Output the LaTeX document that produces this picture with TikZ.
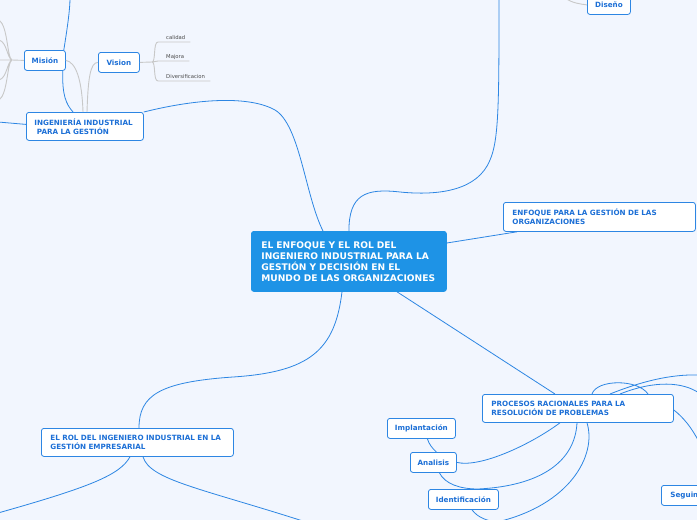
\documentclass[tikz,border=0pt]{standalone}
\usepackage{fontspec}
\setmainfont{DejaVu Sans}
\usepackage{tikz}
\usetikzlibrary{calc}
\definecolor{mapbg}{HTML}{F2F6FE}
\definecolor{mapline}{HTML}{2D86E3}
\definecolor{maptext}{HTML}{1C6FD6}
\definecolor{mapfill}{HTML}{1E93E6}
\definecolor{maptwig}{HTML}{C8C8C8}
\definecolor{mapdark}{HTML}{4A4A4A}

\begin{document}
\begin{tikzpicture}[x=1pt,y=-1pt,
	topic/.style={draw=mapline,fill=white,rounded corners=2.5pt,line width=0.8pt,text=maptext,anchor=north west,inner xsep=9pt,inner ysep=0pt,align=left,font=\bfseries\fontsize{7.2}{9}\selectfont},
	sub/.style={topic,align=center,inner xsep=0pt},
	core/.style={topic,fill=mapfill,draw=mapfill,text=white,inner xsep=10pt,font=\bfseries\fontsize{9.1}{11}\selectfont},
	leaf/.style={anchor=south west,inner xsep=0pt,inner ysep=1pt,text height=4pt,text depth=1.5pt,align=left,text=mapdark,font=\fontsize{5.3}{6}\selectfont},
	link/.style={draw=mapline,line width=0.8pt},
	twig/.style={draw=maptwig,line width=0.9pt}]
		\fill[mapbg] (0,0) rectangle (697,520);
		\useasboundingbox (0,0) rectangle (697,520);
		\clip (0,0) rectangle (697,520);

		\path (251,231) node[core,text width=175pt,minimum height=60pt] (main) {EL ENFOQUE Y EL ROL DEL\\INGENIERO INDUSTRIAL PARA LA\\GESTIÓN Y DECISIÓN EN EL\\MUNDO DE LAS ORGANIZACIONES}
		(503,202) node[topic,text width=174pt,minimum height=29pt] (enf) {ENFOQUE PARA LA GESTIÓN DE LAS\\ORGANIZACIONES}
		(482,394) node[topic,text width=173pt,minimum height=28pt] (proc) {PROCESOS RACIONALES PARA LA\\RESOLUCIÓN DE PROBLEMAS}
		(41,428) node[topic,text width=174pt,minimum height=28pt] (rol) {EL ROL DEL INGENIERO INDUSTRIAL EN LA\\GESTIÓN EMPRESARIAL}
		(26,112) node[topic,inner xsep=8pt,text width=101pt,minimum height=28pt] (ing) {INGENIERÍA INDUSTRIAL\\\hspace{2.5pt}PARA LA GESTIÓN}
		(24,50) node[sub,minimum width=41pt,minimum height=20pt] (mis) {Misión}
		(98,52) node[sub,minimum width=41pt,minimum height=20pt] (vis) {Vision}
		(587,-5) node[sub,minimum width=43pt,minimum height=19pt] (dis) {Diseño}
		(387,418) node[sub,minimum width=68pt,minimum height=20pt] (imp) {Implantación}
		(410,452) node[sub,minimum width=46pt,minimum height=20pt] (ana) {Analisis}
		(428,489) node[sub,minimum width=70pt,minimum height=20pt] (idf) {Identificación}
		(661,485) node[topic,text width=60pt,minimum height=20pt] (seg) {Seguim}
		(166,42) node[leaf,text width=24pt] (cal) {calidad}
		(166,61) node[leaf,text width=23pt] (maj) {Majora}
		(166,81) node[leaf,text width=44pt] (div) {Diversificacion};

		\path (499,-2) coordinate (up)
		(-2,513) coordinate (sw)
		(306,522) coordinate (s1)
		(-2,122) coordinate (w1)
		(70,-2) coordinate (n1)
		(497,522) coordinate (pdown)
		(699,375) coordinate (r1)
		(699,393) coordinate (r2)
		(699,442) coordinate (r3)
		(152,62) coordinate (vfork)
		(12,60) coordinate (mfork)
		(565,-2) coordinate (dfork);

		\draw[link] ($(main.north west)+(72,0)$) .. controls (305,195) and (300,125) .. (275,110) .. controls (250,96) and (200,98) .. (ing.north east)
		(main.north) .. controls (349,195) and (365,188) .. (400,192) .. controls (440,196) and (478,190) .. (490,160) .. controls (499,140) and (499,100) .. (up)
		($(main.north east)+(0,12)$) -- ($(enf.south west)+(14,0)$)
		($(main.south west)+(146,0)$) -- ($(proc.north west)+(73,0)$)
		($(main.south west)+(91,0)$) .. controls (335,350) and (310,372) .. (233,377) .. controls (160,382) and (139,395) .. ($(rol.north west)+(98,0)$)
		($(rol.south west)+(89,0)$) .. controls (120,475) and (90,487) .. (sw)
		($(rol.south west)+(102,0)$) .. controls (150,480) and (200,488) .. (s1)
		($(ing.west)+(0,-2)$) -- (w1)
		($(mis.north east)+(-2,0)$) .. controls (67,30) and (70,10) .. (n1)
		($(mis.south east)+(-3,0)$) .. controls (62,95) and (66,104) .. ($(ing.north west)+(47,0)$);

		\draw[link] ($(proc.south west)+(78,0)$) .. controls (530,445) and (480,468) .. (ana.east)
		($(proc.south west)+(95,0)$) .. controls (575,462) and (540,486) .. ($(idf.north west)+(50,0)$)
		($(ana.south)+(6,0)$) .. controls (445,484) and (460,489) .. ($(idf.north west)+(50,0)$)
		($(proc.south west)+(105,0)$) .. controls (597,455) and (570,505) .. (pdown)
		($(idf.south west)+(44,0)$) .. controls (478,518) and (488,521) .. (pdown)
		($(imp.south)+(6,0)$) .. controls (429,444) and (432,448) .. ($(ana.north)+(3,0)$)
		($(proc.north west)+(110,0)$) .. controls (597,379) and (638,379) .. ($(proc.north west)+(166,0)$)
		($(proc.north west)+(128,0)$) .. controls (640,382) and (670,374) .. (r1)
		($(proc.north west)+(138,0)$) .. controls (655,380) and (683,382) .. (r2)
		($(proc.north east)+(0,16)$) .. controls (683,417) and (692,428) .. (r3);

		\draw[twig] ($(ing.north west)+(57,0)$) .. controls (82,80) and (76,62) .. (mis.east)
		($(ing.north west)+(61,0)$) .. controls (88,80) and (90,62) .. (vis.west)
		(vis.east) -- (vfork)
		(vfork) .. controls (156,62) and (153,42) .. ($(cal.south west)+(-8,0)$) -- (cal.south east)
		(vfork) .. controls (155,62) and (155,61) .. ($(maj.south west)+(-8,0)$) -- (maj.south east)
		(vfork) .. controls (156,62) and (153,81) .. ($(div.south west)+(-8,0)$) -- (div.south east)
		(mis.west) -- (mfork)
		(mfork) .. controls (7,58) and (8,26) .. (-1,20)
		(mfork) .. controls (7,58) and (7,42) .. (-1,40)
		(mfork) -- (-1,60)
		(mfork) .. controls (7,62) and (7,78) .. (-1,80)
		(mfork) .. controls (7,62) and (8,94) .. (-1,100)
		(dfork) .. controls (572,3) and (580,4) .. (dis.west);
	\end{tikzpicture}
\end{document}
